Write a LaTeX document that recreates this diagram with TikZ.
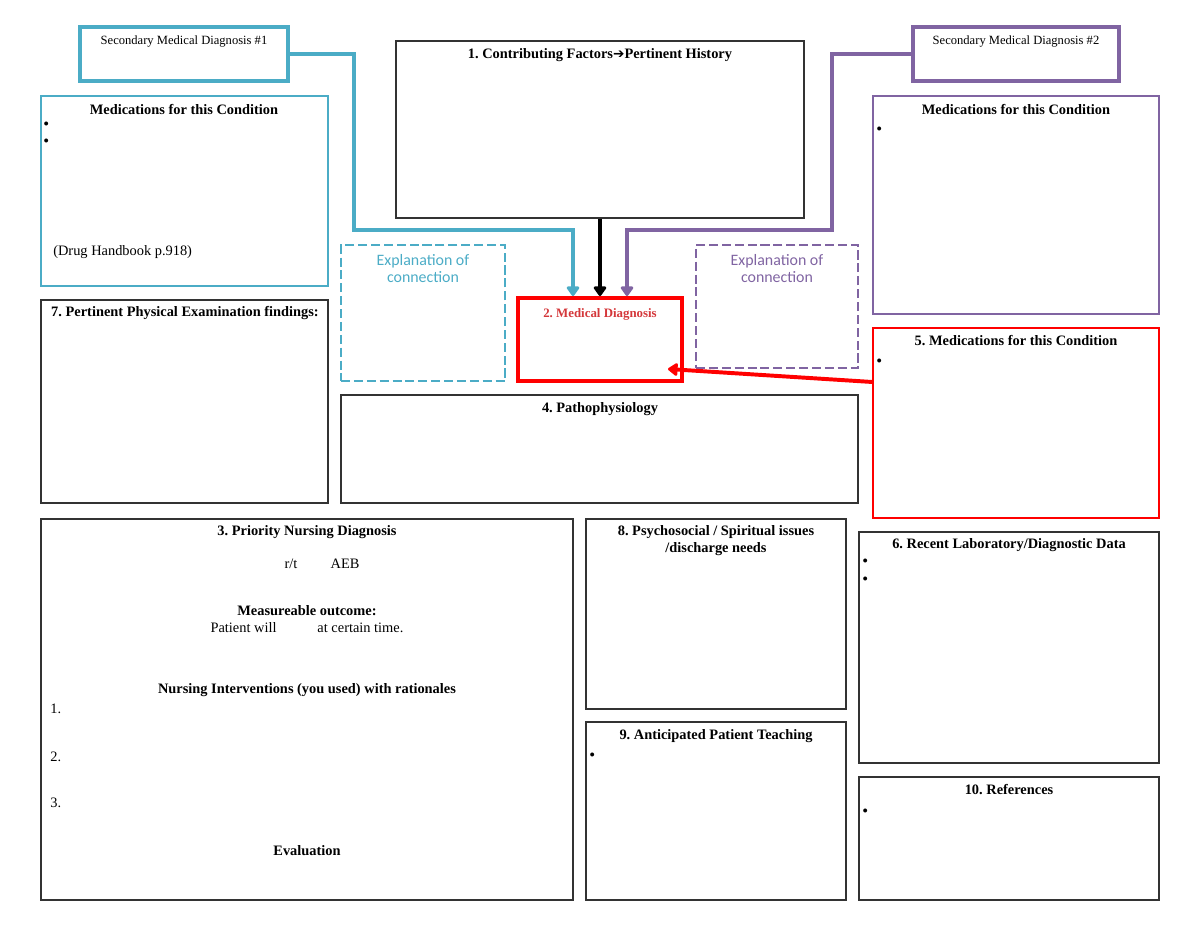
\documentclass[tikz,border=0pt]{standalone}
\usepackage{fontspec}
\setmainfont{Liberation Serif}
\newfontfamily\expfont{Carlito}
\newfontfamily\symfont{DejaVu Sans}
\usetikzlibrary{arrows.meta,fit,positioning}

\definecolor{cteal}{HTML}{4BACC6}
\definecolor{cpurple}{HTML}{8064A2}
\definecolor{cred}{HTML}{FF0000}
\definecolor{ctitlered}{HTML}{D4373A}

\tikzset{
  panel/.style={draw=black!80, line width=0.8pt, inner sep=0pt},
  headline/.style={font=\fontsize{9.5}{11.2}\selectfont\bfseries, align=center, inner sep=0pt},
  plain/.style={font=\fontsize{9.5}{11.2}\selectfont, inner sep=0pt},
  dot/.style={font=\fontsize{11}{11}\selectfont, inner sep=0pt, anchor=west},
  secnote/.style={font=\fontsize{8.3}{10}\selectfont, inner sep=0pt},
  explain/.style={font=\expfont\fontsize{10.5}{11.2}\selectfont, align=center, inner sep=0pt},
  wire/.style={line width=2.6pt, -{Triangle[length=7pt,width=9.5pt,round]}}
}

\begin{document}
\frenchspacing
\begin{tikzpicture}[x=0.66pt, y=-0.66pt]
  \useasboundingbox (0,0) rectangle (1200,927);

  % Secondary diagnoses and their medications
  \node[panel, draw=cteal, line width=2.2pt, fit={(80,27) (288,81)}] (sec1) {};
  \node[secnote] (sec1t) at (184,41) {Secondary Medical Diagnosis \#1};
  \node[panel, draw=cteal, line width=1.3pt, fit={(41,96) (328,286)}] (meds1) {};
  \node[headline] (meds1t) at (184,109) {Medications for this Condition};
  \node[dot] (meds1b1) at (43,126) {•};
  \node[dot] (meds1b2) at (43,143) {•};
  \node[plain, anchor=west] (drug) at (53,252) {(Drug Handbook p.918)};

  \node[panel, draw=cpurple, line width=2.2pt, fit={(913,27) (1119,81)}] (sec2) {};
  \node[secnote] (sec2t) at (1016,41) {Secondary Medical Diagnosis \#2};
  \node[panel, draw=cpurple, line width=1.3pt, fit={(873,96) (1159,314)}] (meds2) {};
  \node[headline] (meds2t) at (1016,109) {Medications for this Condition};
  \node[dot] (meds2b1) at (876,131) {•};

  % Centre column
  \node[panel, fit={(396,41) (804,218)}] (hist) {};
  \node[headline] (histt) at (600,55) {1. Contributing Factors{\symfont\fontsize{9}{11}\selectfont ➔}Pertinent History};

  \node[panel, draw=cteal, line width=1.3pt, dash pattern=on 6pt off 2.5pt, fit={(341,245) (505,381)}] (exp1) {};
  \node[explain, text=cteal] (exp1t) at (423,269) {Explanation of\\connection};
  \node[panel, draw=cpurple, line width=1.3pt, dash pattern=on 6pt off 2.5pt, fit={(696,245) (858,368)}] (exp2) {};
  \node[explain, text=cpurple] (exp2t) at (777,269) {Explanation of\\connection};

  \node[panel, draw=cred, line width=2.6pt, fit={(518,298) (682,381)}] (meddx) {};
  \node[headline, font=\fontsize{8.5}{10}\selectfont\bfseries, text=ctitlered] (meddxt) at (600,314) {2. Medical Diagnosis};
  \coordinate (dxin) at (668,369);

  \node[panel, fit={(341,395) (858,503)}] (patho) {};
  \node[headline] (pathot) at (600,409) {4. Pathophysiology};

  \node[panel, fit={(41,300) (328,503)}] (phys) {};
  \node[headline] (physt) at (185,313) {7. Pertinent Physical Examination findings:};

  \node[panel, draw=cred, fit={(873,328) (1159,518)}] (meds5) {};
  \node[headline] (meds5t) at (1016,341) {5. Medications for this Condition};
  \node[dot] (meds5b1) at (876,363) {•};

  % Lower panels
  \node[panel, fit={(41,519) (573,900)}] (nurse) {};
  \node[headline] (nurset) at (307,532) {3. Priority Nursing Diagnosis};
  \node[plain] (rt) at (322,564) {r/t\hspace*{22pt}AEB};
  \node[headline] (outc) at (307,611) {Measureable outcome:};
  \node[plain] (will) at (307,628) {Patient will\hspace*{27pt}at certain time.};
  \node[headline] (interv) at (307,690) {Nursing Interventions (you used) with rationales};
  \foreach \n/\y in {1/709, 2/757, 3/803}
    \node[plain, anchor=west] (step\n) at (50,\y) {\n.};
  \node[headline] (evalt) at (307,851) {Evaluation};

  \node[panel, fit={(586,519) (846,709)}] (psych) {};
  \node[headline] (psycht) at (716,541) {8. Psychosocial / Spiritual issues\\/discharge needs};

  \node[panel, fit={(586,722) (846,900)}] (teach) {};
  \node[headline] (teacht) at (716,736) {9. Anticipated Patient Teaching};
  \node[dot] (teachb1) at (589,757) {•};

  \node[panel, fit={(859,532) (1159,763)}] (labs) {};
  \node[headline] (labst) at (1009,545) {6. Recent Laboratory/Diagnostic Data};
  \node[dot] (labsb1) at (862,563) {•};
  \node[dot] (labsb2) at (862,581) {•};

  \node[panel, fit={(859,777) (1159,900)}] (refs) {};
  \node[headline] (refst) at (1009,790) {10. References};
  \node[dot] (refsb1) at (862,813) {•};

  % Connectors into the medical diagnosis
  \draw[wire, cteal] (sec1.east) -| (354,230) -| (573,0 |- meddx.north);
  \draw[wire, cpurple] (sec2.west) -| (832,230) -| (627,0 |- meddx.north);
  \draw[wire, black] (hist.south) -- (meddx.north);
  \draw[wire, cred] (meds5.west |- 0,382) -- (dxin);
\end{tikzpicture}
\end{document}
